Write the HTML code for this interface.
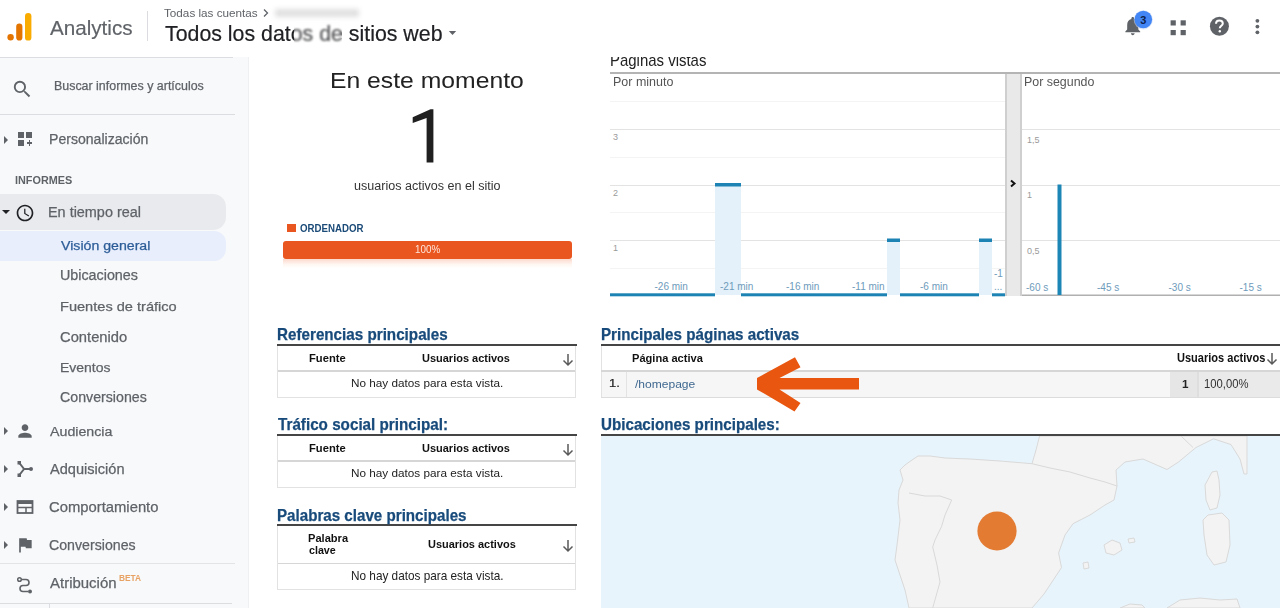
<!DOCTYPE html>
<html><head><meta charset="utf-8">
<style>
*{margin:0;padding:0;box-sizing:border-box}
html,body{width:1280px;height:608px;overflow:hidden;background:#fff;font-family:"Liberation Sans",sans-serif;position:relative}
.a{position:absolute;white-space:nowrap;line-height:normal}
</style></head><body>
<div class="a" style="left:0;top:0;width:1280px;height:57px;background:#fff;z-index:10">
<svg class="a" style="left:0;top:0" width="40" height="57">
    <circle cx="10.6" cy="37.3" r="3.2" fill="#e37400"/>
    <rect x="16.2" y="23.6" width="6.2" height="17" rx="3.1" fill="#e37400"/>
    <rect x="25" y="13" width="6.4" height="27.6" rx="3.2" fill="#f9ab00"/>
  </svg>
<div class="a" style="left:50.00px;top:16.69px;font-size:19.47px;font-weight:normal;color:#5f6368;transform:scaleX(1.0605);transform-origin:0 0;-webkit-text-stroke:0.15px">Analytics</div>
<div class="a" style="left:147px;top:11px;width:1px;height:30px;background:#dadce0"></div>
<div class="a" style="left:164.02px;top:6.52px;font-size:11.39px;font-weight:normal;color:#5f6368;transform:scaleX(1.0290);transform-origin:0 0;">Todas las cuentas</div>
<div class="a" style="left:164.57px;top:21.04px;font-size:21.97px;font-weight:normal;color:#202124;transform:scaleX(0.9711);transform-origin:0 0;-webkit-text-stroke:0.2px">Todos los datos de sitios web</div>
  <svg class="a" style="left:1100px;top:0" width="180" height="57">
    <path transform="translate(21.6 14.7) scale(0.93)" fill="#5f6368" d="M12 22c1.1 0 2-.9 2-2h-4c0 1.1.89 2 2 2zm6-6v-5c0-3.07-1.64-5.64-4.5-6.32V4c0-.83-.67-1.5-1.5-1.5s-1.5.67-1.5 1.5v.68C7.630 5.36 6 7.92 6 11v5l-2 2v1h16v-1l-2-2z"/>
    <circle cx="43.3" cy="19.8" r="9.6" fill="#c9d9f5" opacity=".6"/>
    <circle cx="43.3" cy="19.5" r="8.8" fill="#4285f4"/>
    <text x="43.3" y="23.5" text-anchor="middle" font-family="Liberation Sans" font-size="11" font-weight="bold" fill="#0d1f4a">3</text>
    <rect x="70.6" y="20.3" width="5.2" height="5.2" fill="#5f6368"/>
    <rect x="80.6" y="20.3" width="5.2" height="5.2" fill="#5f6368"/>
    <rect x="70.6" y="30" width="5.2" height="5.2" fill="#5f6368"/>
    <rect x="80.6" y="30" width="5.2" height="5.2" fill="#5f6368"/>
    <circle cx="119.4" cy="26.3" r="9.5" fill="#5f6368"/>
    <path d="M116 23.8c0-2 1.5-3.4 3.4-3.4s3.4 1.3 3.4 3.1c0 2.3-3 2.4-3 4.8" stroke="#fff" stroke-width="2" fill="none"/>
    <circle cx="119.8" cy="31.3" r="1.2" fill="#fff"/>
    <circle cx="157.4" cy="20.8" r="1.9" fill="#5f6368"/>
    <circle cx="157.4" cy="26.6" r="1.9" fill="#5f6368"/>
    <circle cx="157.4" cy="32.3" r="1.9" fill="#5f6368"/>
  </svg>
  <svg class="a" style="left:440px;top:25px" width="20" height="14"><path d="M8.8 6L16.2 6L12.5 10z" fill="#5f6368"/></svg>
  <svg class="a" style="left:262px;top:8px" width="8" height="10"><path d="M2 1.5L5.5 5L2 8.5" stroke="#5f6368" stroke-width="1.3" fill="none"/></svg>
  <div class="a" style="left:275px;top:9px;width:84px;height:8px;background:#d6d6d6;filter:blur(2.5px);opacity:.75"></div>
  <div class="a" style="left:294px;top:21px;width:48px;height:24px;backdrop-filter:blur(0.8px);-webkit-backdrop-filter:blur(0.8px);background:rgba(255,255,255,.22)"></div>

</div>
<div class="a" style="left:0;top:57px;width:249px;height:551px;background:#f8f9fa;border-right:1px solid #eef0f2"></div>
  <div class="a" style="left:0;top:57px;width:233px;height:1px;background:#dcdde0"></div>
  <svg class="a" style="left:11.4px;top:77.6px" width="22.5" height="22.5" viewBox="0 0 24 24"><path fill="#5f6368" d="M15.5 14h-.79l-.28-.27A6.471 6.471 0 0 0 16 9.5 6.5 6.5 0 1 0 9.5 16c1.61 0 3.09-.59 4.23-1.57l.27.28v.79l5 4.99L20.49 19l-4.99-5zm-6 0C7.01 14 5 11.99 5 9.5S7.01 5 9.5 5 14 7.01 14 9.5 11.99 14 9.5 14z"/></svg>
  <div class="a" style="left:0;top:114px;width:235px;height:1px;background:#dcdde0"></div>
  <svg class="a" style="left:0;top:130px" width="10" height="20"><path d="M4 6L8 10L4 14z" fill="#5f6368"/></svg>
  <svg class="a" style="left:16px;top:130px" width="18" height="18" viewBox="0 0 18 18"><rect x="2" y="2" width="6" height="6" fill="#5f6368"/><rect x="10" y="2" width="6" height="6" fill="#5f6368"/><rect x="2" y="10" width="6" height="6" fill="#5f6368"/><path d="M13 10v2h-2v2h2v2h1v-2h2v-2h-2v-2z" fill="#5f6368"/></svg>
  <div class="a" style="left:0;top:193.6px;width:226px;height:36px;background:#e8eaed;border-radius:0 13px 13px 0"></div>
  <svg class="a" style="left:0;top:202px" width="12" height="20"><path d="M2 8L10 8L6 12z" fill="#202124"/></svg>
  <svg class="a" style="left:15px;top:203px" width="20" height="20" viewBox="0 0 24 24"><path fill="#202124" d="M11.99 2C6.47 2 2 6.48 2 12s4.47 10 9.99 10C17.52 22 22 17.52 22 12S17.52 2 11.99 2zM12 20c-4.42 0-8-3.58-8-8s3.58-8 8-8 8 3.58 8 8-3.58 8-8 8zm.5-13H11v6l5.25 3.15.75-1.23-4.5-2.67z"/></svg>
  <div class="a" style="left:0;top:231.2px;width:226px;height:30px;background:#e8eefc;border-radius:0 12px 12px 0"></div>
  <svg class="a" style="left:0;top:421px" width="10" height="20"><path d="M4 6L8 10L4 14z" fill="#5f6368"/></svg>
  <svg class="a" style="left:15px;top:421px" width="20" height="20" viewBox="0 0 24 24"><path fill="#5f6368" d="M12 12c2.21 0 4-1.79 4-4s-1.79-4-4-4-4 1.79-4 4 1.79 4 4 4zm0 2c-2.67 0-8 1.34-8 4v2h16v-2c0-2.66-5.33-4-8-4z"/></svg>
  <svg class="a" style="left:0;top:459px" width="10" height="20"><path d="M4 6L8 10L4 14z" fill="#5f6368"/></svg>
  <svg class="a" style="left:15px;top:459px" width="20" height="20" viewBox="0 0 20 20"><path d="M4 3.5 L9 10 L4 16.5 M9 10 L16 10" stroke="#5f6368" stroke-width="2" fill="none"/><rect x="2.5" y="2" width="3.5" height="3.5" fill="#5f6368"/><rect x="2.5" y="14.5" width="3.5" height="3.5" fill="#5f6368"/><circle cx="16" cy="10" r="2" fill="#5f6368"/></svg>
  <svg class="a" style="left:0;top:497px" width="10" height="20"><path d="M4 6L8 10L4 14z" fill="#5f6368"/></svg>
  <svg class="a" style="left:15px;top:497px" width="20" height="20" viewBox="0 0 20 20"><rect x="2.5" y="4" width="15" height="12" fill="none" stroke="#5f6368" stroke-width="1.8"/><rect x="2.5" y="4" width="15" height="3" fill="#5f6368"/><path d="M2.5 10.5H17.5M11 10.5V16" stroke="#5f6368" stroke-width="1.5"/></svg>
  <svg class="a" style="left:0;top:535px" width="10" height="20"><path d="M4 6L8 10L4 14z" fill="#5f6368"/></svg>
  <svg class="a" style="left:15px;top:535px" width="20" height="20" viewBox="0 0 24 24"><path fill="#5f6368" d="M14.4 6L14 4H5v17h2v-7h5.6l.4 2h7V6z"/></svg>
  <div class="a" style="left:0;top:563px;width:235px;height:1px;background:#e3e4e6"></div>
  <svg class="a" style="left:15px;top:575px" width="20" height="20" viewBox="0 0 20 20"><circle cx="4.5" cy="4.5" r="1.8" fill="none" stroke="#5f6368" stroke-width="1.5"/><path d="M6.3 4.5H11a3 3 0 0 1 0 6H8a3 3 0 0 0 0 6h5" fill="none" stroke="#5f6368" stroke-width="1.6"/><circle cx="15" cy="16.5" r="2" fill="#5f6368"/></svg>
  <div class="a" style="left:0;top:603px;width:232px;height:1px;background:#dcdde0"></div>
  <div class="a" style="left:49px;top:603px;width:1px;height:6px;background:#dcdde0"></div>

<div class="a" style="left:53.51px;top:79.37px;font-size:12.10px;font-weight:normal;color:#5f6368;transform:scaleX(1.0270);transform-origin:0 0;-webkit-text-stroke:0.25px">Buscar informes y artículos</div>
<div class="a" style="left:48.87px;top:131.86px;font-size:13.74px;font-weight:normal;color:#5f6368;transform:scaleX(1.0253);transform-origin:0 0;-webkit-text-stroke:0.25px">Personalización</div>
<div class="a" style="left:14.85px;top:173.72px;font-size:10.90px;font-weight:bold;color:#5f6368;transform:scaleX(0.9960);transform-origin:0 0;">INFORMES</div>
<div class="a" style="left:48.35px;top:203.81px;font-size:14.06px;font-weight:normal;color:#5f6368;transform:scaleX(1.0263);transform-origin:0 0;-webkit-text-stroke:0.25px">En tiempo real</div>
<div class="a" style="left:61.00px;top:237.97px;font-size:13.08px;font-weight:normal;color:#2d5d98;transform:scaleX(1.0812);transform-origin:0 0;-webkit-text-stroke:0.25px">Visión general</div>
<div class="a" style="left:60.00px;top:268.36px;font-size:13.74px;font-weight:normal;color:#5f6368;transform:scaleX(1.0416);transform-origin:0 0;-webkit-text-stroke:0.25px">Ubicaciones</div>
<div class="a" style="left:59.83px;top:298.91px;font-size:13.41px;font-weight:normal;color:#5f6368;transform:scaleX(1.0873);transform-origin:0 0;-webkit-text-stroke:0.25px">Fuentes de tráfico</div>
<div class="a" style="left:60.26px;top:328.81px;font-size:14.06px;font-weight:normal;color:#5f6368;transform:scaleX(1.0493);transform-origin:0 0;-webkit-text-stroke:0.25px">Contenido</div>
<div class="a" style="left:59.88px;top:359.66px;font-size:13.41px;font-weight:normal;color:#5f6368;transform:scaleX(1.0431);transform-origin:0 0;-webkit-text-stroke:0.25px">Eventos</div>
<div class="a" style="left:60.29px;top:388.81px;font-size:14.06px;font-weight:normal;color:#5f6368;transform:scaleX(1.0105);transform-origin:0 0;-webkit-text-stroke:0.25px">Conversiones</div>
<div class="a" style="left:49.50px;top:423.97px;font-size:13.08px;font-weight:normal;color:#5f6368;transform:scaleX(1.0869);transform-origin:0 0;-webkit-text-stroke:0.25px">Audiencia</div>
<div class="a" style="left:49.70px;top:461.26px;font-size:14.39px;font-weight:normal;color:#5f6368;transform:scaleX(1.0140);transform-origin:0 0;-webkit-text-stroke:0.25px">Adquisición</div>
<div class="a" style="left:48.96px;top:498.76px;font-size:14.39px;font-weight:normal;color:#5f6368;transform:scaleX(1.0302);transform-origin:0 0;-webkit-text-stroke:0.25px">Comportamiento</div>
<div class="a" style="left:48.99px;top:536.76px;font-size:14.39px;font-weight:normal;color:#5f6368;transform:scaleX(0.9858);transform-origin:0 0;-webkit-text-stroke:0.25px">Conversiones</div>
<div class="a" style="left:49.70px;top:575.36px;font-size:14.39px;font-weight:normal;color:#5f6368;transform:scaleX(1.0415);transform-origin:0 0;-webkit-text-stroke:0.25px">Atribución</div>
<div class="a" style="left:119.10px;top:572.31px;font-size:9.45px;font-weight:bold;color:#e8a264;transform:scaleX(0.8828);transform-origin:0 0;">BETA</div>
<div class="a" style="left:330.02px;top:67.85px;font-size:22.23px;font-weight:normal;color:#222;transform:scaleX(1.1127);transform-origin:0 0;">En este momento</div>
<svg class="a" style="left:0;top:0" width="460" height="170"><path d="M412.7 117.3 L430.5 109.2 L433.4 109.2 L433.4 162.4 L426.6 162.4 L426.6 118 L412.7 122.9 Z" fill="#202020"/></svg>
<div class="a" style="left:353.85px;top:177.77px;font-size:13.08px;font-weight:normal;color:#333;transform:scaleX(0.9602);transform-origin:0 0;">usuarios activos en el sitio</div>
<div class="a" style="left:287px;top:224px;width:9px;height:8px;background:#ea561f"></div>
<div class="a" style="left:300.21px;top:221.87px;font-size:10.90px;font-weight:bold;color:#1a4a78;transform:scaleX(0.8907);transform-origin:0 0;">ORDENADOR</div>
<div class="a" style="left:283px;top:259px;width:289px;height:9px;background:linear-gradient(#fbd9cc,#fff6f2 60%,#fff);"></div>
<div class="a" style="left:282.5px;top:240.6px;width:289.5px;height:18.3px;background:#ea561f;border-radius:3px"></div>
<div class="a" style="left:414.91px;top:242.97px;font-size:11.34px;font-weight:normal;color:#fde6dc;transform:scaleX(0.8683);transform-origin:0 0;">100%</div>
<div class="a" style="left:277px;top:344.3px;width:300px;height:2px;background:#454545"></div>
<div class="a" style="left:277px;top:346.3px;width:299px;height:51.5px;border:1px solid #e2e2e2;border-top:none"></div>
<div class="a" style="left:278px;top:370.3px;width:297px;height:1.5px;background:#d6d6d6"></div>
<svg class="a" style="left:562px;top:353px" width="12" height="14" viewBox="0 0 12 14"><path d="M6 1V12M1.5 7.5L6 12L10.5 7.5" stroke="#5a5a5a" stroke-width="1.5" fill="none"/></svg>
<div class="a" style="left:277px;top:434.3px;width:300px;height:2px;background:#454545"></div>
<div class="a" style="left:277px;top:436.3px;width:299px;height:51.5px;border:1px solid #e2e2e2;border-top:none"></div>
<div class="a" style="left:278px;top:460.3px;width:297px;height:1.5px;background:#d6d6d6"></div>
<svg class="a" style="left:562px;top:443px" width="12" height="14" viewBox="0 0 12 14"><path d="M6 1V12M1.5 7.5L6 12L10.5 7.5" stroke="#5a5a5a" stroke-width="1.5" fill="none"/></svg>
<div class="a" style="left:277px;top:524px;width:300px;height:2px;background:#454545"></div>
<div class="a" style="left:277px;top:526px;width:299px;height:64.3px;border:1px solid #e2e2e2;border-top:none"></div>
<div class="a" style="left:278px;top:562.6px;width:297px;height:1.5px;background:#d6d6d6"></div>
<svg class="a" style="left:562px;top:539px" width="12" height="14" viewBox="0 0 12 14"><path d="M6 1V12M1.5 7.5L6 12L10.5 7.5" stroke="#5a5a5a" stroke-width="1.5" fill="none"/></svg>
<div class="a" style="left:600.5px;top:344.3px;width:680px;height:2px;background:#454545"></div>
<div class="a" style="left:601px;top:346px;width:1px;height:51px;background:#e2e2e2"></div>
<div class="a" style="left:601px;top:370.3px;width:679px;height:1.5px;background:#d6d6d6"></div>
<div class="a" style="left:602px;top:371.8px;width:678px;height:25.5px;background:#f6f6f6"></div>
<div class="a" style="left:625.5px;top:371.8px;width:1.5px;height:25.5px;background:#e3e3e3"></div>
<div class="a" style="left:1170px;top:371.8px;width:27px;height:25.5px;background:#e6e6e6"></div>
<div class="a" style="left:1197px;top:371.8px;width:2px;height:25.5px;background:#dedede"></div>
<div class="a" style="left:1199px;top:371.8px;width:81px;height:25.5px;background:#eaeaea"></div>
<div class="a" style="left:601px;top:396.8px;width:679px;height:1.5px;background:#dcdcdc"></div>
<svg class="a" style="left:1266px;top:352px" width="12" height="14" viewBox="0 0 12 14"><path d="M6 1V12M1.5 7.5L6 12L10.5 7.5" stroke="#5a5a5a" stroke-width="1.5" fill="none"/></svg>
<div class="a" style="left:600.5px;top:433.5px;width:680px;height:2.5px;background:#454545"></div>
<svg class="a" style="left:0;top:0;z-index:3" width="1280" height="608"><path d="M757 378 L795 357.3 L800.5 367.2 L779.5 378 L859 378 L859 389.4 L779.5 389.4 L800.5 403 L794.5 411.6 L757 389.4 Z" fill="#e8560f"/></svg>
<div class="a" style="left:277.29px;top:325.89px;font-size:15.99px;font-weight:bold;color:#184b7b;transform:scaleX(0.9513);transform-origin:0 0;-webkit-text-stroke:0.25px">Referencias principales</div>
<div class="a" style="left:277.85px;top:415.49px;font-size:16.86px;font-weight:bold;color:#184b7b;transform:scaleX(0.9030);transform-origin:0 0;-webkit-text-stroke:0.25px">Tráfico social principal:</div>
<div class="a" style="left:277.29px;top:505.56px;font-size:16.13px;font-weight:bold;color:#184b7b;transform:scaleX(0.9404);transform-origin:0 0;-webkit-text-stroke:0.25px">Palabras clave principales</div>
<div class="a" style="left:600.69px;top:325.89px;font-size:15.99px;font-weight:bold;color:#184b7b;transform:scaleX(0.9493);transform-origin:0 0;-webkit-text-stroke:0.25px">Principales páginas activas</div>
<div class="a" style="left:600.59px;top:416.29px;font-size:15.99px;font-weight:bold;color:#184b7b;transform:scaleX(0.9493);transform-origin:0 0;-webkit-text-stroke:0.25px">Ubicaciones principales:</div>
<div class="a" style="left:309.33px;top:351.30px;font-size:11.63px;font-weight:bold;color:#111;transform:scaleX(0.9619);transform-origin:0 0;">Fuente</div>
<div class="a" style="left:422.14px;top:351.77px;font-size:11.34px;font-weight:bold;color:#111;transform:scaleX(0.9694);transform-origin:0 0;">Usuarios activos</div>
<div class="a" style="left:350.86px;top:376.84px;font-size:11.48px;font-weight:normal;color:#222;transform:scaleX(1.0246);transform-origin:0 0;">No hay datos para esta vista.</div>
<div class="a" style="left:309.33px;top:441.30px;font-size:11.63px;font-weight:bold;color:#111;transform:scaleX(0.9619);transform-origin:0 0;">Fuente</div>
<div class="a" style="left:422.14px;top:441.77px;font-size:11.34px;font-weight:bold;color:#111;transform:scaleX(0.9694);transform-origin:0 0;">Usuarios activos</div>
<div class="a" style="left:350.86px;top:466.84px;font-size:11.48px;font-weight:normal;color:#222;transform:scaleX(1.0246);transform-origin:0 0;">No hay datos para esta vista.</div>
<div class="a" style="left:308.33px;top:531.97px;font-size:10.90px;font-weight:bold;color:#111;transform:scaleX(1.0184);transform-origin:0 0;">Palabra</div>
<div class="a" style="left:308.68px;top:544.46px;font-size:10.70px;font-weight:bold;color:#111;transform:scaleX(1.0010);transform-origin:0 0;">clave</div>
<div class="a" style="left:428.04px;top:537.70px;font-size:11.19px;font-weight:bold;color:#111;transform:scaleX(0.9808);transform-origin:0 0;">Usuarios activos</div>
<div class="a" style="left:351.26px;top:568.70px;font-size:12.06px;font-weight:normal;color:#222;transform:scaleX(0.9778);transform-origin:0 0;">No hay datos para esta vista.</div>
<div class="a" style="left:631.83px;top:351.30px;font-size:11.63px;font-weight:bold;color:#111;transform:scaleX(0.9541);transform-origin:0 0;">Página activa</div>
<div class="a" style="left:1176.54px;top:350.83px;font-size:12.35px;font-weight:bold;color:#111;transform:scaleX(0.8947);transform-origin:0 0;">Usuarios activos</div>
<div class="a" style="left:608.99px;top:377.37px;font-size:10.90px;font-weight:normal;color:#222;transform:scaleX(1.1939);transform-origin:0 0;-webkit-text-stroke:0.2px">1.</div>
<div class="a" style="left:634.50px;top:376.50px;font-size:11.63px;font-weight:normal;color:#3f6890;transform:scaleX(1.0352);transform-origin:0 0;">/homepage</div>
<div class="a" style="left:1181.80px;top:376.57px;font-size:11.77px;font-weight:bold;color:#222;transform:scaleX(0.9940);transform-origin:0 0;">1</div>
<div class="a" style="left:1204.01px;top:376.50px;font-size:12.06px;font-weight:normal;color:#333;transform:scaleX(0.9348);transform-origin:0 0;">100,00%</div>
<div class="a" style="left:610.00px;top:51.56px;font-size:15.70px;font-weight:normal;color:#222;transform:scaleX(0.9529);transform-origin:0 0;">Páginas vistas</div>
<div class="a" style="left:610px;top:72.3px;width:670px;height:2px;background:#b4b4b4"></div>
<div class="a" style="left:613.00px;top:74.80px;font-size:12.06px;font-weight:normal;color:#555;transform:scaleX(1.0363);transform-origin:0 0;">Por minuto</div>
<div class="a" style="left:1024.01px;top:74.20px;font-size:13.37px;font-weight:normal;color:#555;transform:scaleX(0.9289);transform-origin:0 0;">Por segundo</div>
<svg class="a" style="left:0;top:0" width="1280" height="300">
    <g stroke-width="1">
      <line x1="610" y1="101.5" x2="1005" y2="101.5" stroke="#f4f4f4"/>
      <line x1="610" y1="129.5" x2="1005" y2="129.5" stroke="#e3e3e3"/>
      <line x1="610" y1="157.5" x2="1005" y2="157.5" stroke="#f4f4f4"/>
      <line x1="610" y1="185.5" x2="1005" y2="185.5" stroke="#e3e3e3"/>
      <line x1="610" y1="212.5" x2="1005" y2="212.5" stroke="#f4f4f4"/>
      <line x1="610" y1="240.5" x2="1005" y2="240.5" stroke="#e3e3e3"/>
      <line x1="610" y1="268.5" x2="1005" y2="268.5" stroke="#f4f4f4"/>
      <line x1="1022" y1="129.5" x2="1280" y2="129.5" stroke="#e3e3e3"/>
      <line x1="1022" y1="185.5" x2="1280" y2="185.5" stroke="#e3e3e3"/>
      <line x1="1022" y1="240.5" x2="1280" y2="240.5" stroke="#e3e3e3"/>
    </g>
    <rect x="715" y="186" width="26" height="109" fill="#e4f1fa"/>
    <rect x="715" y="183" width="26" height="3.5" fill="#1c83b4"/>
    <rect x="887" y="241" width="13" height="54" fill="#e4f1fa"/>
    <rect x="887" y="238.5" width="13" height="3.5" fill="#1c83b4"/>
    <rect x="979" y="241" width="13" height="54" fill="#e4f1fa"/>
    <rect x="979" y="238.5" width="13" height="3.5" fill="#1c83b4"/>
    <rect x="610" y="293.3" width="105" height="3" fill="#1c83b4"/>
    <rect x="741" y="293.3" width="146" height="3" fill="#1c83b4"/>
    <rect x="900" y="293.3" width="79" height="3" fill="#1c83b4"/>
    <rect x="992" y="293.3" width="13" height="3" fill="#1c83b4"/>
    <rect x="1005" y="74" width="17" height="222" fill="#e9e9e9"/>
    <rect x="1005" y="74" width="2" height="222" fill="#cfcfcf"/>
    <rect x="1020" y="74" width="2" height="222" fill="#cfcfcf"/>
    <path d="M1011 180.5 L1014.5 183.5 L1011 186.5" stroke="#111" stroke-width="2" fill="none"/>
    <rect x="1022" y="294.5" width="258" height="1.5" fill="#b0b0b0"/>
    <rect x="1057.5" y="184.5" width="4" height="110.5" fill="#1c86b6"/>
    <g font-family="Liberation Sans" font-size="9" fill="#9a9a9a">
      <text x="613" y="140">3</text><text x="613" y="195.5">2</text><text x="613" y="251">1</text>
      <text x="1027" y="142.5">1,5</text><text x="1027" y="198">1</text><text x="1027" y="253.5">0,5</text>
    </g>
    <g font-family="Liberation Sans" font-size="10" fill="#6e9bbb">
      <text x="654.5" y="290">-26 min</text><text x="720" y="290">-21 min</text><text x="786" y="290">-16 min</text>
      <text x="852" y="290">-11 min</text><text x="920" y="290">-6 min</text><text x="994" y="277">-1</text><text x="994" y="290">...</text>
      <text x="1026" y="290.5">-60 s</text><text x="1097" y="290.5">-45 s</text><text x="1168.5" y="290.5">-30 s</text><text x="1239.5" y="290.5">-15 s</text>
    </g>
  </svg>
<svg class="a" style="left:601px;top:436px" width="679" height="172" viewBox="601 436 679 172">
    <rect x="601" y="436" width="679" height="172" fill="#e8f4fc"/>
    <g fill="#f3f3f3" stroke="#d9d9d9" stroke-width="1">
      <path d="M1039.6 436 L1036 450 L1032 463.7 L1000 461 L970 459 L945 458 L930 456 L918 456 L912 460 L905 465 L900 470 L903 480 L899 490 L898 503 L900 520 L897 545 L895 560 L900 575 L905 590 L909 608 L1032 608 L1044 594 L1061.5 567.6 L1058.6 553 L1065 535 L1073 523.7 L1090 515 L1105 505 L1114 500 L1117 486 L1116 470 L1125 462 L1143 459 L1167 469.5 L1178.5 462 L1196 447.5 L1213.6 438.8 L1231 444.6 L1240 459 L1244 474 L1247 474 L1247 436 Z"/>
      <path d="M1212 472 L1217 471 L1219 480 L1220 495 L1217 508 L1210 510 L1206 500 L1205 485 Z"/>
      <path d="M1208 515 L1222 513 L1229 520 L1230 545 L1226 562 L1214 565 L1207 555 L1204 535 L1203 520 Z"/>
      <path d="M1104 545 L1112 540 L1120 543 L1122 550 L1114 555 L1106 553 Z"/>
      <path d="M1128 539 L1134 538 L1135 542 L1129 543 Z"/>
      <path d="M1083 563 L1088 562 L1089 568 L1084 569 Z"/>
      <path d="M1167 608 L1180 600 L1200 598 L1220 600 L1237 599 L1240 608 Z"/>
      <path d="M1120 608 L1130 604 L1142 605 L1145 608 Z"/>
    </g>
    <g fill="none" stroke="#d9d9d9" stroke-width="1">
      <path d="M1032 463.7 L1050 468 L1070 472 L1090 478 L1105 482 L1117 486"/>
      <path d="M909 493 L925 496 L940 496 L951.7 500 L945 515 L941.5 526.6 L935 540 L932.7 547 L937 565 L940 582 L932.7 608"/>
      <path d="M1181 436 L1193 447.5"/>
    </g>
    <circle cx="997" cy="531" r="19.6" fill="#e37b33"/>
  </svg>
</body></html>
